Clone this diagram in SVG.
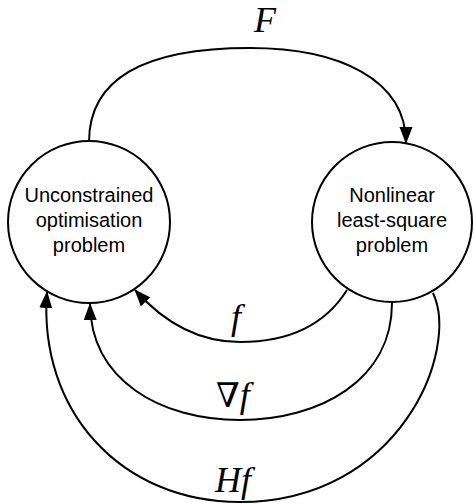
<svg xmlns="http://www.w3.org/2000/svg" width="474" height="504" viewBox="0 0 474 504">
<style>
.node{fill:#fff;stroke:#000;stroke-width:2}
.lbl{font-family:"Liberation Sans",Arial,sans-serif;font-size:20px;fill:#000;text-anchor:middle}
.edge{fill:none;stroke:#000;stroke-width:2;marker-end:url(#arr)}
.math{font-family:"Liberation Serif","Times New Roman",serif;font-style:italic;font-size:36px;fill:#000;text-anchor:middle}
.up{font-style:normal;font-family:"DejaVu Serif",serif;font-size:34px}
</style>
<defs>
<marker id="arr" markerUnits="userSpaceOnUse" markerWidth="18" markerHeight="14" refX="16" refY="6.5" orient="auto">
<path d="M0,0 L17,6.5 L0,13 z" fill="#000"/>
</marker>
</defs>
<rect width="474" height="504" fill="#fff"/>
<g id="edges">
<path class="edge" d="M89 142 C89 75 150 48 250 48 C340 48 406 80 406 143"/>
<path class="edge" d="M347 290 C325 325 290 342 240 342 C195 342 160 318 135 290"/>
<path class="edge" d="M392 303 C392 380 320 420 240 420 C160 420 91 380 90 304"/>
<path class="edge" d="M433 293 C460 350 400 502 240 502 C120 502 38 410 47 292"/>
</g>
<g id="label-F"><text class="math" x="265" y="32">F</text></g>
<g id="label-f"><text class="math" x="236" y="329">f</text></g>
<g id="label-gradf"><text class="math" x="233" y="407"><tspan class="up">∇</tspan>f</text></g>
<g id="label-Hf"><text class="math" x="233" y="492">Hf</text></g>
<g id="node-unconstrained">
<circle class="node" cx="89" cy="222" r="81"/>
<text class="lbl" x="89" y="202">Unconstrained</text>
<text class="lbl" x="89" y="227">optimisation</text>
<text class="lbl" x="89" y="252">problem</text>
</g>
<g id="node-nonlinear">
<circle class="node" cx="392" cy="222" r="80"/>
<text class="lbl" x="392" y="202">Nonlinear</text>
<text class="lbl" x="392" y="227">least-square</text>
<text class="lbl" x="392" y="252">problem</text>
</g>
</svg>
